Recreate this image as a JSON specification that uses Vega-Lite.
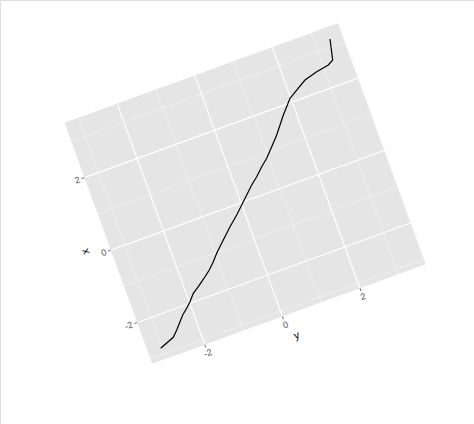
{
  "$schema": "https://vega.github.io/schema/vega-lite/v6.json",
  "width": 474,
  "height": 424,
  "padding": 0,
  "autosize": {"type": "none"},
  "background": "white",
  "params": [
    {"name": "ox", "value": 241.0},
    {"name": "oy", "value": 202.7},
    {"name": "cosA", "value": 0.9397},
    {"name": "sinA", "value": 0.342},
    {"name": "ky", "value": 41.27},
    {"name": "kx", "value": 38.55},
    {"name": "yL", "value": -3.356},
    {"name": "yR", "value": 3.695},
    {"name": "xB", "value": -3.139},
    {"name": "xT", "value": 3.515}
  ],
  "encoding": {
    "x": {"field": "sx", "type": "quantitative", "scale": {"domain": [0, 474], "nice": false, "zero": false}, "axis": null},
    "y": {"field": "sy", "type": "quantitative", "scale": {"domain": [0, 424], "reverse": true, "nice": false, "zero": false}, "axis": null}
  },
  "layer": [
    {
      "data": {"values": [{"part": "panel"}]},
      "transform": [
        {"calculate": "(xB + xT) / 2 * kx", "as": "v"},
        {"calculate": "ox + yL * ky * cosA - datum.v * sinA", "as": "sx"},
        {"calculate": "oy - yL * ky * sinA - datum.v * cosA", "as": "sy"},
        {"calculate": "ox + yR * ky * cosA - datum.v * sinA", "as": "sx2"},
        {"calculate": "oy - yR * ky * sinA - datum.v * cosA", "as": "sy2"}
      ],
      "mark": {"type": "rule", "color": "#E5E5E5", "strokeCap": "butt", "strokeWidth": {"expr": "(xT - xB) * kx"}},
      "encoding": {"x2": {"field": "sx2"}, "y2": {"field": "sy2"}}
    },
    {
      "data": {"name": "grid", "values": [
        {"dim": "y", "value": -3, "major": false},
        {"dim": "y", "value": -2, "major": true},
        {"dim": "y", "value": -1, "major": false},
        {"dim": "y", "value": 0, "major": true},
        {"dim": "y", "value": 1, "major": false},
        {"dim": "y", "value": 2, "major": true},
        {"dim": "y", "value": 3, "major": false},
        {"dim": "x", "value": -3, "major": false},
        {"dim": "x", "value": -2, "major": true},
        {"dim": "x", "value": -1, "major": false},
        {"dim": "x", "value": 0, "major": true},
        {"dim": "x", "value": 1, "major": false},
        {"dim": "x", "value": 2, "major": true},
        {"dim": "x", "value": 3, "major": false}
      ]},
      "transform": [
        {"calculate": "datum.dim == 'y' ? datum.value * ky : yL * ky", "as": "u1"},
        {"calculate": "datum.dim == 'y' ? xB * kx : datum.value * kx", "as": "v1"},
        {"calculate": "datum.dim == 'y' ? datum.value * ky : yR * ky", "as": "u2"},
        {"calculate": "datum.dim == 'y' ? xT * kx : datum.value * kx", "as": "v2"},
        {"calculate": "ox + datum.u1 * cosA - datum.v1 * sinA", "as": "sx"},
        {"calculate": "oy - datum.u1 * sinA - datum.v1 * cosA", "as": "sy"},
        {"calculate": "ox + datum.u2 * cosA - datum.v2 * sinA", "as": "sx2"},
        {"calculate": "oy - datum.u2 * sinA - datum.v2 * cosA", "as": "sy2"}
      ],
      "layer": [
        {
          "transform": [{"filter": "!datum.major"}],
          "mark": {"type": "rule", "color": "#F4F4F4", "strokeWidth": 0.7},
          "encoding": {"x2": {"field": "sx2"}, "y2": {"field": "sy2"}}
        },
        {
          "transform": [{"filter": "datum.major"}],
          "mark": {"type": "rule", "color": "#FFFFFF", "strokeWidth": 1.2},
          "encoding": {"x2": {"field": "sx2"}, "y2": {"field": "sy2"}}
        }
      ]
    },
    {
      "data": {"values": [
        {"dim": "y", "value": -2, "label": "-2"},
        {"dim": "y", "value": 0, "label": "0"},
        {"dim": "y", "value": 2, "label": "2"},
        {"dim": "x", "value": -2, "label": "-2"},
        {"dim": "x", "value": 0, "label": "0"},
        {"dim": "x", "value": 2, "label": "2"}
      ]},
      "transform": [
        {"calculate": "datum.dim == 'y' ? datum.value * ky : yL * ky", "as": "u1"},
        {"calculate": "datum.dim == 'y' ? xB * kx : datum.value * kx", "as": "v1"},
        {"calculate": "datum.dim == 'y' ? datum.value * ky : yL * ky - 3", "as": "u2"},
        {"calculate": "datum.dim == 'y' ? xB * kx - 3 : datum.value * kx", "as": "v2"},
        {"calculate": "datum.dim == 'y' ? datum.value * ky : yL * ky - 5", "as": "ut"},
        {"calculate": "datum.dim == 'y' ? xB * kx - 5 : datum.value * kx", "as": "vt"}
      ],
      "layer": [
        {
          "transform": [
            {"calculate": "ox + datum.u1 * cosA - datum.v1 * sinA", "as": "sx"},
            {"calculate": "oy - datum.u1 * sinA - datum.v1 * cosA", "as": "sy"},
            {"calculate": "ox + datum.u2 * cosA - datum.v2 * sinA", "as": "sx2"},
            {"calculate": "oy - datum.u2 * sinA - datum.v2 * cosA", "as": "sy2"}
          ],
          "mark": {"type": "rule", "color": "#4D4D4D", "strokeWidth": 0.8},
          "encoding": {"x2": {"field": "sx2"}, "y2": {"field": "sy2"}}
        },
        {
          "transform": [
            {"filter": "datum.dim == 'x'"},
            {"calculate": "ox + datum.ut * cosA - datum.vt * sinA", "as": "sx"},
            {"calculate": "oy - datum.ut * sinA - datum.vt * cosA", "as": "sy"}
          ],
          "mark": {"type": "text", "angle": -20, "align": "right", "baseline": "middle", "font": "Liberation Sans", "fontSize": 9, "fill": "#4D4D4D"},
          "encoding": {"text": {"field": "label"}}
        },
        {
          "transform": [
            {"filter": "datum.dim == 'y'"},
            {"calculate": "ox + datum.ut * cosA - datum.vt * sinA", "as": "sx"},
            {"calculate": "oy - datum.ut * sinA - datum.vt * cosA", "as": "sy"}
          ],
          "mark": {"type": "text", "angle": -20, "align": "center", "baseline": "top", "font": "Liberation Sans", "fontSize": 9, "fill": "#4D4D4D"},
          "encoding": {"text": {"field": "label"}}
        }
      ]
    },
    {
      "data": {"values": [
        {"dim": "y", "title": "y"},
        {"dim": "x", "title": "x"}
      ]},
      "transform": [
        {"calculate": "datum.dim == 'y' ? (yL + yR) / 2 * ky : yL * ky - 24", "as": "u"},
        {"calculate": "datum.dim == 'y' ? xB * kx - 23 : (xB + xT) / 2 * kx", "as": "v"},
        {"calculate": "ox + datum.u * cosA - datum.v * sinA", "as": "sx"},
        {"calculate": "oy - datum.u * sinA - datum.v * cosA", "as": "sy"},
        {"calculate": "datum.dim == 'y' ? -20 : -110", "as": "rot"}
      ],
      "mark": {"type": "text", "align": "center", "baseline": "middle", "font": "Liberation Sans", "fontSize": 11, "fill": "#000000"},
      "encoding": {
        "text": {"field": "title"},
        "angle": {"field": "rot", "type": "quantitative", "scale": null}
      }
    },
    {
      "data": {"values": [
        {"y": -3.035, "x": -2.837},
        {"y": -2.657, "x": -2.680},
        {"y": -2.519, "x": -2.533},
        {"y": -2.375, "x": -2.360},
        {"y": -2.258, "x": -2.220},
        {"y": -2.112, "x": -2.092},
        {"y": -1.982, "x": -1.961},
        {"y": -1.837, "x": -1.785},
        {"y": -1.668, "x": -1.669},
        {"y": -1.550, "x": -1.577},
        {"y": -1.433, "x": -1.485},
        {"y": -1.280, "x": -1.359},
        {"y": -1.120, "x": -1.192},
        {"y": -0.973, "x": -1.018},
        {"y": -0.712, "x": -0.752},
        {"y": -0.449, "x": -0.487},
        {"y": -0.200, "x": -0.262},
        {"y": -0.003, "x": -0.062},
        {"y": 0.194, "x": 0.137},
        {"y": 0.390, "x": 0.336},
        {"y": 0.573, "x": 0.494},
        {"y": 0.770, "x": 0.694},
        {"y": 0.953, "x": 0.854},
        {"y": 1.163, "x": 1.093},
        {"y": 1.374, "x": 1.334},
        {"y": 1.532, "x": 1.548},
        {"y": 1.690, "x": 1.762},
        {"y": 1.836, "x": 1.935},
        {"y": 1.981, "x": 2.110},
        {"y": 2.089, "x": 2.178},
        {"y": 2.202, "x": 2.253},
        {"y": 2.474, "x": 2.423},
        {"y": 2.809, "x": 2.522},
        {"y": 3.129, "x": 2.582},
        {"y": 3.270, "x": 2.665},
        {"y": 3.383, "x": 3.201}
      ]},
      "transform": [
        {"calculate": "ox + datum.y * ky * cosA - datum.x * kx * sinA", "as": "sx"},
        {"calculate": "oy - datum.y * ky * sinA - datum.x * kx * cosA", "as": "sy"}
      ],
      "mark": {"type": "line", "color": "#000000", "strokeWidth": 1.2},
      "encoding": {"order": {"field": "y", "type": "quantitative"}}
    }
  ]
}
